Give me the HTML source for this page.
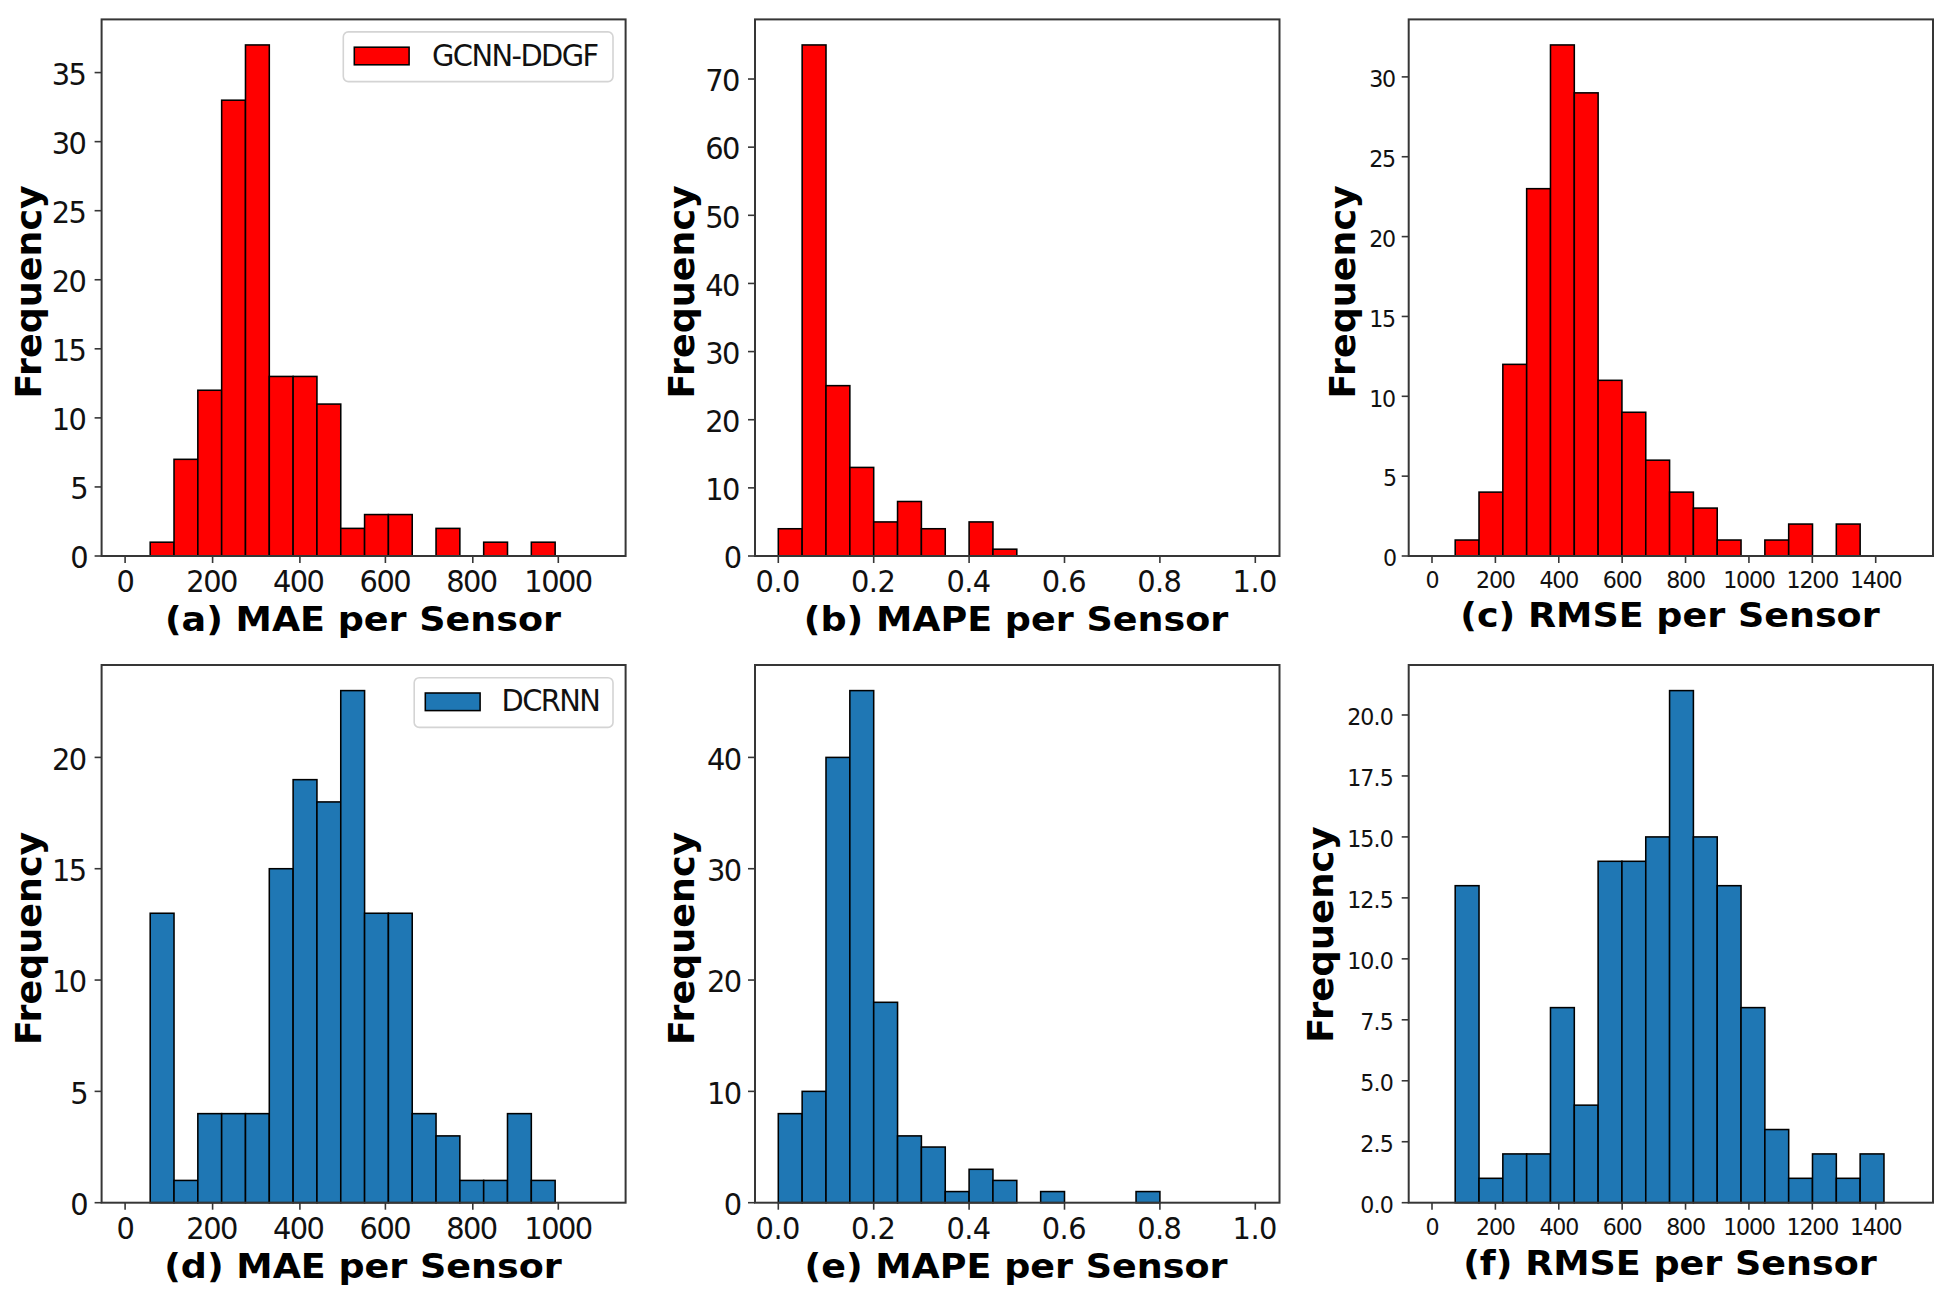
<!DOCTYPE html>
<html lang="en"><head><meta charset="utf-8"><title>Error histograms per sensor</title>
<style>html,body{margin:0;padding:0;background:#fff}body{width:1949px;height:1292px;overflow:hidden}svg{display:block}</style>
</head><body>
<svg width="1949" height="1292" viewBox="0 0 1949 1292" font-family='"DejaVu Sans", "Liberation Sans", sans-serif'>
<rect width="1949" height="1292" fill="#fff"/>
<g fill="#ff0000" stroke="#000" stroke-width="1.55" stroke-linejoin="miter">
<rect x="150.2" y="542.19" width="23.82" height="13.81"/>
<rect x="174.02" y="459.32" width="23.82" height="96.68"/>
<rect x="197.84" y="390.25" width="23.82" height="165.75"/>
<rect x="221.66" y="100.2" width="23.82" height="455.8"/>
<rect x="245.48" y="44.95" width="23.82" height="511.05"/>
<rect x="269.3" y="376.44" width="23.82" height="179.56"/>
<rect x="293.12" y="376.44" width="23.82" height="179.56"/>
<rect x="316.94" y="404.07" width="23.82" height="151.93"/>
<rect x="340.76" y="528.38" width="23.82" height="27.62"/>
<rect x="364.58" y="514.56" width="23.82" height="41.44"/>
<rect x="388.4" y="514.56" width="23.82" height="41.44"/>
<rect x="436.04" y="528.38" width="23.82" height="27.62"/>
<rect x="483.68" y="542.19" width="23.82" height="13.81"/>
<rect x="531.32" y="542.19" width="23.82" height="13.81"/>
</g>
<g stroke="#363636" stroke-width="1.6">
<line x1="125.1" y1="556" x2="125.1" y2="563"/>
<line x1="212.6" y1="556" x2="212.6" y2="563"/>
<line x1="299.9" y1="556" x2="299.9" y2="563"/>
<line x1="385.4" y1="556" x2="385.4" y2="563"/>
<line x1="472.8" y1="556" x2="472.8" y2="563"/>
<line x1="558.3" y1="556" x2="558.3" y2="563"/>
<line x1="94.6" y1="556" x2="101.6" y2="556"/>
<line x1="94.6" y1="486.94" x2="101.6" y2="486.94"/>
<line x1="94.6" y1="417.88" x2="101.6" y2="417.88"/>
<line x1="94.6" y1="348.82" x2="101.6" y2="348.82"/>
<line x1="94.6" y1="279.76" x2="101.6" y2="279.76"/>
<line x1="94.6" y1="210.7" x2="101.6" y2="210.7"/>
<line x1="94.6" y1="141.64" x2="101.6" y2="141.64"/>
<line x1="94.6" y1="72.58" x2="101.6" y2="72.58"/>
</g>
<rect x="101.6" y="19.4" width="524" height="536.6" fill="none" stroke="#363636" stroke-width="2.0"/>
<g font-size="29.8" fill="#111" letter-spacing="-0.054em">
<text transform="translate(125 591.9) scale(0.97 1)" text-anchor="middle">0</text>
<text transform="translate(211.6 591.9) scale(0.97 1)" text-anchor="middle">200</text>
<text transform="translate(298.2 591.9) scale(0.97 1)" text-anchor="middle">400</text>
<text transform="translate(384.8 591.9) scale(0.97 1)" text-anchor="middle">600</text>
<text transform="translate(471.4 591.9) scale(0.97 1)" text-anchor="middle">800</text>
<text transform="translate(558 591.9) scale(0.97 1)" text-anchor="middle">1000</text>
<text transform="translate(87.2 568.3) scale(0.97 1)" text-anchor="end">0</text>
<text transform="translate(87.2 499.24) scale(0.97 1)" text-anchor="end">5</text>
<text transform="translate(85.3 430.18) scale(0.97 1)" text-anchor="end">10</text>
<text transform="translate(85.3 361.12) scale(0.97 1)" text-anchor="end">15</text>
<text transform="translate(85.3 292.06) scale(0.97 1)" text-anchor="end">20</text>
<text transform="translate(85.3 223) scale(0.97 1)" text-anchor="end">25</text>
<text transform="translate(85.3 153.94) scale(0.97 1)" text-anchor="end">30</text>
<text transform="translate(85.3 84.88) scale(0.97 1)" text-anchor="end">35</text>
</g>
<text transform="translate(363 630.9) scale(1.09 1)" font-size="33.5" font-weight="bold" text-anchor="middle" fill="#000">(a) MAE per Sensor</text>
<text transform="translate(40.5 291.9) rotate(-90) scale(1.042 1)" font-size="35.0" font-weight="bold" text-anchor="middle" fill="#000">Frequency</text>
<rect x="343.3" y="31.9" width="269.7" height="49.7" rx="5" ry="5" fill="#fff" fill-opacity="0.8" stroke="#d4d4d4" stroke-width="1.6"/>
<rect x="354.3" y="47.2" width="54.8" height="17.6" fill="#ff0000" stroke="#000" stroke-width="1.55"/>
<text transform="translate(432 65.6) scale(0.97 1)" font-size="29.8" fill="#111" letter-spacing="-0.054em">GCNN-DDGF</text>
<g fill="#ff0000" stroke="#000" stroke-width="1.55" stroke-linejoin="miter">
<rect x="778.3" y="528.74" width="23.85" height="27.26"/>
<rect x="802.15" y="44.95" width="23.85" height="511.05"/>
<rect x="826" y="385.65" width="23.85" height="170.35"/>
<rect x="849.85" y="467.42" width="23.85" height="88.58"/>
<rect x="873.7" y="521.93" width="23.85" height="34.07"/>
<rect x="897.55" y="501.49" width="23.85" height="54.51"/>
<rect x="921.4" y="528.74" width="23.85" height="27.26"/>
<rect x="969.1" y="521.93" width="23.85" height="34.07"/>
<rect x="992.95" y="549.19" width="23.85" height="6.81"/>
</g>
<g stroke="#363636" stroke-width="1.6">
<line x1="778.3" y1="556" x2="778.3" y2="563"/>
<line x1="873.7" y1="556" x2="873.7" y2="563"/>
<line x1="969.1" y1="556" x2="969.1" y2="563"/>
<line x1="1064.5" y1="556" x2="1064.5" y2="563"/>
<line x1="1159.9" y1="556" x2="1159.9" y2="563"/>
<line x1="1255.3" y1="556" x2="1255.3" y2="563"/>
<line x1="748" y1="556" x2="755" y2="556"/>
<line x1="748" y1="487.86" x2="755" y2="487.86"/>
<line x1="748" y1="419.72" x2="755" y2="419.72"/>
<line x1="748" y1="351.58" x2="755" y2="351.58"/>
<line x1="748" y1="283.44" x2="755" y2="283.44"/>
<line x1="748" y1="215.3" x2="755" y2="215.3"/>
<line x1="748" y1="147.16" x2="755" y2="147.16"/>
<line x1="748" y1="79.02" x2="755" y2="79.02"/>
</g>
<rect x="755" y="19.4" width="524.5" height="536.6" fill="none" stroke="#363636" stroke-width="2.0"/>
<g font-size="29.8" fill="#111" letter-spacing="-0.054em">
<text transform="translate(777.7 591.9) scale(0.97 1)" text-anchor="middle" letter-spacing="-0.02em">0.0</text>
<text transform="translate(873.1 591.9) scale(0.97 1)" text-anchor="middle" letter-spacing="-0.02em">0.2</text>
<text transform="translate(968.5 591.9) scale(0.97 1)" text-anchor="middle" letter-spacing="-0.02em">0.4</text>
<text transform="translate(1063.9 591.9) scale(0.97 1)" text-anchor="middle" letter-spacing="-0.02em">0.6</text>
<text transform="translate(1159.3 591.9) scale(0.97 1)" text-anchor="middle" letter-spacing="-0.02em">0.8</text>
<text transform="translate(1254.7 591.9) scale(0.97 1)" text-anchor="middle" letter-spacing="-0.02em">1.0</text>
<text transform="translate(740.6 568.3) scale(0.97 1)" text-anchor="end">0</text>
<text transform="translate(738.8 500.16) scale(0.97 1)" text-anchor="end">10</text>
<text transform="translate(738.8 432.02) scale(0.97 1)" text-anchor="end">20</text>
<text transform="translate(738.8 363.88) scale(0.97 1)" text-anchor="end">30</text>
<text transform="translate(738.8 295.74) scale(0.97 1)" text-anchor="end">40</text>
<text transform="translate(738.8 227.6) scale(0.97 1)" text-anchor="end">50</text>
<text transform="translate(738.8 159.46) scale(0.97 1)" text-anchor="end">60</text>
<text transform="translate(738.8 91.32) scale(0.97 1)" text-anchor="end">70</text>
</g>
<text transform="translate(1016 630.9) scale(1.09 1)" font-size="33.5" font-weight="bold" text-anchor="middle" fill="#000">(b) MAPE per Sensor</text>
<text transform="translate(693.5 291.9) rotate(-90) scale(1.042 1)" font-size="35.0" font-weight="bold" text-anchor="middle" fill="#000">Frequency</text>
<g fill="#ff0000" stroke="#000" stroke-width="1.55" stroke-linejoin="miter">
<rect x="1455.2" y="540.03" width="23.82" height="15.97"/>
<rect x="1479.02" y="492.12" width="23.82" height="63.88"/>
<rect x="1502.84" y="364.36" width="23.82" height="191.64"/>
<rect x="1526.66" y="188.68" width="23.82" height="367.32"/>
<rect x="1550.48" y="44.95" width="23.82" height="511.05"/>
<rect x="1574.3" y="92.86" width="23.82" height="463.14"/>
<rect x="1598.12" y="380.33" width="23.82" height="175.67"/>
<rect x="1621.94" y="412.27" width="23.82" height="143.73"/>
<rect x="1645.76" y="460.18" width="23.82" height="95.82"/>
<rect x="1669.58" y="492.12" width="23.82" height="63.88"/>
<rect x="1693.4" y="508.09" width="23.82" height="47.91"/>
<rect x="1717.22" y="540.03" width="23.82" height="15.97"/>
<rect x="1764.86" y="540.03" width="23.82" height="15.97"/>
<rect x="1788.68" y="524.06" width="23.82" height="31.94"/>
<rect x="1836.32" y="524.06" width="23.82" height="31.94"/>
</g>
<g stroke="#363636" stroke-width="1.6">
<line x1="1432" y1="556" x2="1432" y2="563"/>
<line x1="1495.39" y1="556" x2="1495.39" y2="563"/>
<line x1="1558.77" y1="556" x2="1558.77" y2="563"/>
<line x1="1622.16" y1="556" x2="1622.16" y2="563"/>
<line x1="1685.54" y1="556" x2="1685.54" y2="563"/>
<line x1="1748.93" y1="556" x2="1748.93" y2="563"/>
<line x1="1812.32" y1="556" x2="1812.32" y2="563"/>
<line x1="1875.7" y1="556" x2="1875.7" y2="563"/>
<line x1="1401.7" y1="556" x2="1408.7" y2="556"/>
<line x1="1401.7" y1="476.15" x2="1408.7" y2="476.15"/>
<line x1="1401.7" y1="396.3" x2="1408.7" y2="396.3"/>
<line x1="1401.7" y1="316.45" x2="1408.7" y2="316.45"/>
<line x1="1401.7" y1="236.6" x2="1408.7" y2="236.6"/>
<line x1="1401.7" y1="156.74" x2="1408.7" y2="156.74"/>
<line x1="1401.7" y1="76.89" x2="1408.7" y2="76.89"/>
</g>
<rect x="1408.7" y="19.4" width="524.3" height="536.6" fill="none" stroke="#363636" stroke-width="2.0"/>
<g font-size="22.6" fill="#111" letter-spacing="-0.054em">
<text transform="translate(1432 587.8) scale(0.98 1)" text-anchor="middle">0</text>
<text transform="translate(1495.39 587.8) scale(0.98 1)" text-anchor="middle">200</text>
<text transform="translate(1558.77 587.8) scale(0.98 1)" text-anchor="middle">400</text>
<text transform="translate(1622.16 587.8) scale(0.98 1)" text-anchor="middle">600</text>
<text transform="translate(1685.54 587.8) scale(0.98 1)" text-anchor="middle">800</text>
<text transform="translate(1748.93 587.8) scale(0.98 1)" text-anchor="middle">1000</text>
<text transform="translate(1812.32 587.8) scale(0.98 1)" text-anchor="middle">1200</text>
<text transform="translate(1875.7 587.8) scale(0.98 1)" text-anchor="middle">1400</text>
<text transform="translate(1396 566.2) scale(0.98 1)" text-anchor="end">0</text>
<text transform="translate(1396 486.35) scale(0.98 1)" text-anchor="end">5</text>
<text transform="translate(1395 406.5) scale(0.98 1)" text-anchor="end">10</text>
<text transform="translate(1395 326.65) scale(0.98 1)" text-anchor="end">15</text>
<text transform="translate(1395 246.8) scale(0.98 1)" text-anchor="end">20</text>
<text transform="translate(1395 166.94) scale(0.98 1)" text-anchor="end">25</text>
<text transform="translate(1395 87.09) scale(0.98 1)" text-anchor="end">30</text>
</g>
<text transform="translate(1670 627.2) scale(1.09 1)" font-size="33.5" font-weight="bold" text-anchor="middle" fill="#000">(c) RMSE per Sensor</text>
<text transform="translate(1355 291.9) rotate(-90) scale(1.042 1)" font-size="35.0" font-weight="bold" text-anchor="middle" fill="#000">Frequency</text>
<g fill="#1f77b4" stroke="#000" stroke-width="1.55" stroke-linejoin="miter">
<rect x="150.2" y="913.25" width="23.82" height="289.45"/>
<rect x="174.02" y="1180.43" width="23.82" height="22.27"/>
<rect x="197.84" y="1113.64" width="23.82" height="89.06"/>
<rect x="221.66" y="1113.64" width="23.82" height="89.06"/>
<rect x="245.48" y="1113.64" width="23.82" height="89.06"/>
<rect x="269.3" y="868.72" width="23.82" height="333.98"/>
<rect x="293.12" y="779.66" width="23.82" height="423.04"/>
<rect x="316.94" y="801.93" width="23.82" height="400.77"/>
<rect x="340.76" y="690.6" width="23.82" height="512.1"/>
<rect x="364.58" y="913.25" width="23.82" height="289.45"/>
<rect x="388.4" y="913.25" width="23.82" height="289.45"/>
<rect x="412.22" y="1113.64" width="23.82" height="89.06"/>
<rect x="436.04" y="1135.9" width="23.82" height="66.8"/>
<rect x="459.86" y="1180.43" width="23.82" height="22.27"/>
<rect x="483.68" y="1180.43" width="23.82" height="22.27"/>
<rect x="507.5" y="1113.64" width="23.82" height="89.06"/>
<rect x="531.32" y="1180.43" width="23.82" height="22.27"/>
</g>
<g stroke="#363636" stroke-width="1.6">
<line x1="125.1" y1="1202.7" x2="125.1" y2="1209.7"/>
<line x1="212.6" y1="1202.7" x2="212.6" y2="1209.7"/>
<line x1="299.9" y1="1202.7" x2="299.9" y2="1209.7"/>
<line x1="385.4" y1="1202.7" x2="385.4" y2="1209.7"/>
<line x1="472.8" y1="1202.7" x2="472.8" y2="1209.7"/>
<line x1="558.3" y1="1202.7" x2="558.3" y2="1209.7"/>
<line x1="94.6" y1="1202.7" x2="101.6" y2="1202.7"/>
<line x1="94.6" y1="1091.37" x2="101.6" y2="1091.37"/>
<line x1="94.6" y1="980.05" x2="101.6" y2="980.05"/>
<line x1="94.6" y1="868.72" x2="101.6" y2="868.72"/>
<line x1="94.6" y1="757.4" x2="101.6" y2="757.4"/>
</g>
<rect x="101.6" y="665" width="524" height="537.7" fill="none" stroke="#363636" stroke-width="2.0"/>
<g font-size="29.8" fill="#111" letter-spacing="-0.054em">
<text transform="translate(125 1238.6) scale(0.97 1)" text-anchor="middle">0</text>
<text transform="translate(211.6 1238.6) scale(0.97 1)" text-anchor="middle">200</text>
<text transform="translate(298.2 1238.6) scale(0.97 1)" text-anchor="middle">400</text>
<text transform="translate(384.8 1238.6) scale(0.97 1)" text-anchor="middle">600</text>
<text transform="translate(471.4 1238.6) scale(0.97 1)" text-anchor="middle">800</text>
<text transform="translate(558 1238.6) scale(0.97 1)" text-anchor="middle">1000</text>
<text transform="translate(87.2 1215) scale(0.97 1)" text-anchor="end">0</text>
<text transform="translate(87.2 1103.67) scale(0.97 1)" text-anchor="end">5</text>
<text transform="translate(85.6 992.35) scale(0.97 1)" text-anchor="end">10</text>
<text transform="translate(85.6 881.02) scale(0.97 1)" text-anchor="end">15</text>
<text transform="translate(85.6 769.7) scale(0.97 1)" text-anchor="end">20</text>
</g>
<text transform="translate(363 1278.4) scale(1.09 1)" font-size="33.5" font-weight="bold" text-anchor="middle" fill="#000">(d) MAE per Sensor</text>
<text transform="translate(40.5 938.4) rotate(-90) scale(1.042 1)" font-size="35.0" font-weight="bold" text-anchor="middle" fill="#000">Frequency</text>
<rect x="414.2" y="677.7" width="198.8" height="49.7" rx="5" ry="5" fill="#fff" fill-opacity="0.8" stroke="#d4d4d4" stroke-width="1.6"/>
<rect x="425.3" y="693" width="54.8" height="17.6" fill="#1f77b4" stroke="#000" stroke-width="1.55"/>
<text transform="translate(501.5 711.4) scale(0.97 1)" font-size="29.8" fill="#111" letter-spacing="-0.054em">DCRNN</text>
<g fill="#1f77b4" stroke="#000" stroke-width="1.55" stroke-linejoin="miter">
<rect x="778.3" y="1113.64" width="23.85" height="89.06"/>
<rect x="802.15" y="1091.37" width="23.85" height="111.33"/>
<rect x="826" y="757.4" width="23.85" height="445.3"/>
<rect x="849.85" y="690.6" width="23.85" height="512.1"/>
<rect x="873.7" y="1002.31" width="23.85" height="200.39"/>
<rect x="897.55" y="1135.9" width="23.85" height="66.8"/>
<rect x="921.4" y="1147.04" width="23.85" height="55.66"/>
<rect x="945.25" y="1191.57" width="23.85" height="11.13"/>
<rect x="969.1" y="1169.3" width="23.85" height="33.4"/>
<rect x="992.95" y="1180.43" width="23.85" height="22.27"/>
<rect x="1040.65" y="1191.57" width="23.85" height="11.13"/>
<rect x="1136.05" y="1191.57" width="23.85" height="11.13"/>
</g>
<g stroke="#363636" stroke-width="1.6">
<line x1="778.3" y1="1202.7" x2="778.3" y2="1209.7"/>
<line x1="873.7" y1="1202.7" x2="873.7" y2="1209.7"/>
<line x1="969.1" y1="1202.7" x2="969.1" y2="1209.7"/>
<line x1="1064.5" y1="1202.7" x2="1064.5" y2="1209.7"/>
<line x1="1159.9" y1="1202.7" x2="1159.9" y2="1209.7"/>
<line x1="1255.3" y1="1202.7" x2="1255.3" y2="1209.7"/>
<line x1="748" y1="1202.7" x2="755" y2="1202.7"/>
<line x1="748" y1="1091.37" x2="755" y2="1091.37"/>
<line x1="748" y1="980.05" x2="755" y2="980.05"/>
<line x1="748" y1="868.72" x2="755" y2="868.72"/>
<line x1="748" y1="757.4" x2="755" y2="757.4"/>
</g>
<rect x="755" y="665" width="524.5" height="537.7" fill="none" stroke="#363636" stroke-width="2.0"/>
<g font-size="29.8" fill="#111" letter-spacing="-0.054em">
<text transform="translate(777.7 1238.6) scale(0.97 1)" text-anchor="middle" letter-spacing="-0.02em">0.0</text>
<text transform="translate(873.1 1238.6) scale(0.97 1)" text-anchor="middle" letter-spacing="-0.02em">0.2</text>
<text transform="translate(968.5 1238.6) scale(0.97 1)" text-anchor="middle" letter-spacing="-0.02em">0.4</text>
<text transform="translate(1063.9 1238.6) scale(0.97 1)" text-anchor="middle" letter-spacing="-0.02em">0.6</text>
<text transform="translate(1159.3 1238.6) scale(0.97 1)" text-anchor="middle" letter-spacing="-0.02em">0.8</text>
<text transform="translate(1254.7 1238.6) scale(0.97 1)" text-anchor="middle" letter-spacing="-0.02em">1.0</text>
<text transform="translate(740.6 1215) scale(0.97 1)" text-anchor="end">0</text>
<text transform="translate(740.6 1103.67) scale(0.97 1)" text-anchor="end">10</text>
<text transform="translate(740.6 992.35) scale(0.97 1)" text-anchor="end">20</text>
<text transform="translate(740.6 881.02) scale(0.97 1)" text-anchor="end">30</text>
<text transform="translate(740.6 769.7) scale(0.97 1)" text-anchor="end">40</text>
</g>
<text transform="translate(1016 1278.4) scale(1.09 1)" font-size="33.5" font-weight="bold" text-anchor="middle" fill="#000">(e) MAPE per Sensor</text>
<text transform="translate(693.5 938.4) rotate(-90) scale(1.042 1)" font-size="35.0" font-weight="bold" text-anchor="middle" fill="#000">Frequency</text>
<g fill="#1f77b4" stroke="#000" stroke-width="1.55" stroke-linejoin="miter">
<rect x="1455.2" y="885.69" width="23.82" height="317.01"/>
<rect x="1479.02" y="1178.31" width="23.82" height="24.39"/>
<rect x="1502.84" y="1153.93" width="23.82" height="48.77"/>
<rect x="1526.66" y="1153.93" width="23.82" height="48.77"/>
<rect x="1550.48" y="1007.62" width="23.82" height="195.08"/>
<rect x="1574.3" y="1105.16" width="23.82" height="97.54"/>
<rect x="1598.12" y="861.3" width="23.82" height="341.4"/>
<rect x="1621.94" y="861.3" width="23.82" height="341.4"/>
<rect x="1645.76" y="836.92" width="23.82" height="365.78"/>
<rect x="1669.58" y="690.6" width="23.82" height="512.1"/>
<rect x="1693.4" y="836.92" width="23.82" height="365.78"/>
<rect x="1717.22" y="885.69" width="23.82" height="317.01"/>
<rect x="1741.04" y="1007.62" width="23.82" height="195.08"/>
<rect x="1764.86" y="1129.54" width="23.82" height="73.16"/>
<rect x="1788.68" y="1178.31" width="23.82" height="24.39"/>
<rect x="1812.5" y="1153.93" width="23.82" height="48.77"/>
<rect x="1836.32" y="1178.31" width="23.82" height="24.39"/>
<rect x="1860.14" y="1153.93" width="23.82" height="48.77"/>
</g>
<g stroke="#363636" stroke-width="1.6">
<line x1="1432" y1="1202.7" x2="1432" y2="1209.7"/>
<line x1="1495.39" y1="1202.7" x2="1495.39" y2="1209.7"/>
<line x1="1558.77" y1="1202.7" x2="1558.77" y2="1209.7"/>
<line x1="1622.16" y1="1202.7" x2="1622.16" y2="1209.7"/>
<line x1="1685.54" y1="1202.7" x2="1685.54" y2="1209.7"/>
<line x1="1748.93" y1="1202.7" x2="1748.93" y2="1209.7"/>
<line x1="1812.32" y1="1202.7" x2="1812.32" y2="1209.7"/>
<line x1="1875.7" y1="1202.7" x2="1875.7" y2="1209.7"/>
<line x1="1401.7" y1="1202.7" x2="1408.7" y2="1202.7"/>
<line x1="1401.7" y1="1141.74" x2="1408.7" y2="1141.74"/>
<line x1="1401.7" y1="1080.77" x2="1408.7" y2="1080.77"/>
<line x1="1401.7" y1="1019.81" x2="1408.7" y2="1019.81"/>
<line x1="1401.7" y1="958.85" x2="1408.7" y2="958.85"/>
<line x1="1401.7" y1="897.88" x2="1408.7" y2="897.88"/>
<line x1="1401.7" y1="836.92" x2="1408.7" y2="836.92"/>
<line x1="1401.7" y1="775.95" x2="1408.7" y2="775.95"/>
<line x1="1401.7" y1="714.99" x2="1408.7" y2="714.99"/>
</g>
<rect x="1408.7" y="665" width="524.3" height="537.7" fill="none" stroke="#363636" stroke-width="2.0"/>
<g font-size="22.6" fill="#111" letter-spacing="-0.054em">
<text transform="translate(1432 1234.5) scale(0.98 1)" text-anchor="middle">0</text>
<text transform="translate(1495.39 1234.5) scale(0.98 1)" text-anchor="middle">200</text>
<text transform="translate(1558.77 1234.5) scale(0.98 1)" text-anchor="middle">400</text>
<text transform="translate(1622.16 1234.5) scale(0.98 1)" text-anchor="middle">600</text>
<text transform="translate(1685.54 1234.5) scale(0.98 1)" text-anchor="middle">800</text>
<text transform="translate(1748.93 1234.5) scale(0.98 1)" text-anchor="middle">1000</text>
<text transform="translate(1812.32 1234.5) scale(0.98 1)" text-anchor="middle">1200</text>
<text transform="translate(1875.7 1234.5) scale(0.98 1)" text-anchor="middle">1400</text>
<text transform="translate(1392.9 1212.9) scale(0.98 1)" text-anchor="end" letter-spacing="-0.04em">0.0</text>
<text transform="translate(1392.9 1151.94) scale(0.98 1)" text-anchor="end" letter-spacing="-0.04em">2.5</text>
<text transform="translate(1392.9 1090.97) scale(0.98 1)" text-anchor="end" letter-spacing="-0.04em">5.0</text>
<text transform="translate(1392.9 1030.01) scale(0.98 1)" text-anchor="end" letter-spacing="-0.04em">7.5</text>
<text transform="translate(1392.9 969.05) scale(0.98 1)" text-anchor="end" letter-spacing="-0.04em">10.0</text>
<text transform="translate(1392.9 908.08) scale(0.98 1)" text-anchor="end" letter-spacing="-0.04em">12.5</text>
<text transform="translate(1392.9 847.12) scale(0.98 1)" text-anchor="end" letter-spacing="-0.04em">15.0</text>
<text transform="translate(1392.9 786.15) scale(0.98 1)" text-anchor="end" letter-spacing="-0.04em">17.5</text>
<text transform="translate(1392.9 725.19) scale(0.98 1)" text-anchor="end" letter-spacing="-0.04em">20.0</text>
</g>
<text transform="translate(1670 1274.7) scale(1.09 1)" font-size="33.5" font-weight="bold" text-anchor="middle" fill="#000">(f) RMSE per Sensor</text>
<text transform="translate(1333.2 934.7) rotate(-90) scale(1.057 1)" font-size="35.0" font-weight="bold" text-anchor="middle" fill="#000">Frequency</text>
</svg>
</body></html>
